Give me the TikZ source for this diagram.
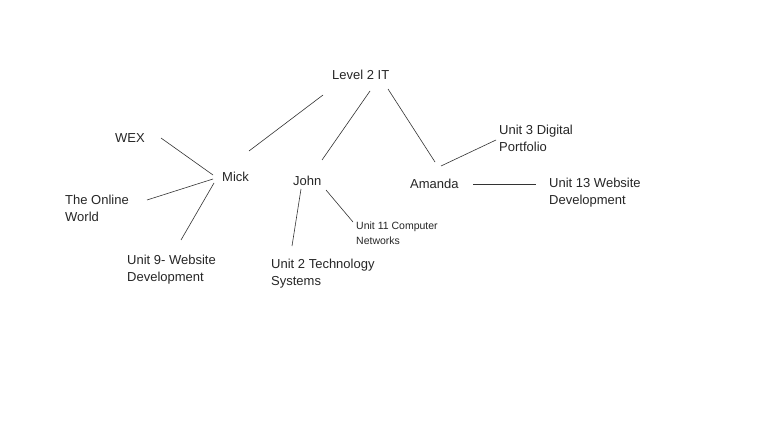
\documentclass[tikz,border=0pt]{standalone}
\usepackage{fontspec}
\setmainfont{Liberation Sans}
\begin{document}
\begin{tikzpicture}[x=1pt,y=-1pt,
  lbl/.style={anchor=west,align=left,inner sep=0pt,font=\fontsize{13}{17}\selectfont,text=black!85},
  sml/.style={anchor=west,align=left,inner sep=0pt,font=\fontsize{10.5}{15}\selectfont,text=black!85},
  ln/.style={draw=black!80,line width=0.6pt}]
\useasboundingbox (0,0) rectangle (768,433);
\fill[white] (0,0) rectangle (768,433);
\node[lbl] (lvl) at (332,75) {Level 2 IT};
\node[lbl] (wex) at (115,138) {WEX};
\node[lbl] (mick) at (222,177) {Mick};
\node[lbl] (john) at (293,181) {John};
\node[lbl] (amanda) at (410,184) {Amanda};
\node[lbl] (u3) at (499,138.5) {Unit 3 Digital\\Portfolio};
\node[lbl] (u13) at (549,193) {Unit 13 Website\\Development};
\node[lbl] (online) at (65,208.5) {The Online\\World};
\node[lbl] (u9) at (127,269.5) {Unit 9- Website\\Development};
\node[lbl] (u2) at (271,274) {Unit 2 Technology\\Systems};
\node[sml] (u11) at (356,233.5) {Unit 11 Computer\\Networks};
\coordinate (a1) at (323,95); \coordinate (a2) at (249,151);
\coordinate (b1) at (370,91); \coordinate (b2) at (322,160);
\coordinate (c1) at (388,89); \coordinate (c2) at (435,162);
\coordinate (d1) at (161,138); \coordinate (d2) at (213,175);
\coordinate (e1) at (147,200); \coordinate (e2) at (213,179);
\coordinate (f1) at (181,240); \coordinate (f2) at (214,183);
\coordinate (g1) at (301,189); \coordinate (g2) at (292,246);
\coordinate (h1) at (326,190); \coordinate (h2) at (353,222);
\coordinate (i1) at (441,166); \coordinate (i2) at (496,140);
\coordinate (j1) at (473,184); \coordinate (j2) at (536,184);
\foreach \p in {a,b,c,d,e,f,g,h,i,j} \draw[ln] (\p1) -- (\p2);
\end{tikzpicture}
\end{document}
